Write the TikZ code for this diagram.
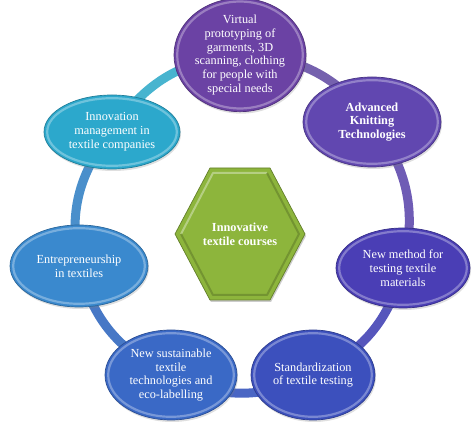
\documentclass[tikz,border=0pt]{standalone}
\usepackage{fontspec}
\setmainfont{Liberation Serif}
\usetikzlibrary{shapes.geometric,backgrounds,calc,shadows}
\definecolor{cTop}{HTML}{6B42A4}
\definecolor{cAdv}{HTML}{6147B0}
\definecolor{cInn}{HTML}{2CA8CC}
\definecolor{cEnt}{HTML}{3A89CE}
\definecolor{cNew}{HTML}{4A3EB5}
\definecolor{cSus}{HTML}{3A69C6}
\definecolor{cSta}{HTML}{3C50BD}
\definecolor{cHex}{HTML}{8DB53C}
\definecolor{lA}{HTML}{48B4CF}
\definecolor{lB}{HTML}{4A8FCB}
\definecolor{lC}{HTML}{4778C6}
\definecolor{lD}{HTML}{4A66C4}
\definecolor{lE}{HTML}{5656BC}
\definecolor{lF}{HTML}{6F5CB5}
\definecolor{lG}{HTML}{7561AE}
\tikzset{
  bub/.style={ellipse, fill=#1, draw=#1!75!black, line width=0.7pt,
    text=white, align=center, inner sep=0pt,
    font=\fontsize{12.3}{13.8}\selectfont,
    drop shadow={opacity=0.25, shadow xshift=1pt, shadow yshift=-2pt},
    path picture={
      \draw[#1!55!white, opacity=0.7, line width=2.2pt]
        let \p1=(path picture bounding box.north east),
            \p2=(path picture bounding box.center) in
        (\p2) ellipse ({\x1-\x2-3.2pt} and {\y1-\y2-3.2pt});
    }},
  link/.style={line width=9pt, draw=#1},
  hexbox/.style={fill=cHex, draw=cHex!70!black, line width=0.7pt, line join=round},
  hextext/.style={text=white, align=center, font=\fontsize{12.3}{14}\selectfont\bfseries}
}
\begin{document}
\begin{tikzpicture}[x=1pt,y=1pt]
\useasboundingbox (0,0) rectangle (474,425);
% nodes
\node[bub=cTop, minimum width=132pt, minimum height=100pt] (top) at (240,370)
  {Virtual\\prototyping of\\garments, 3D\\scanning, clothing\\for people with\\special needs};
\node[bub=cAdv, minimum width=138pt, minimum height=90pt] (adv) at (372,303)
  {\bfseries Advanced\\\bfseries Knitting\\\bfseries Technologies};
\node[bub=cInn, minimum width=136pt, minimum height=74pt] (inn) at (112,293)
  {Innovation\\management in\\textile companies};
\node[bub=cEnt, minimum width=138pt, minimum height=82pt] (ent) at (79,159)
  {Entrepreneurship\\in textiles};
\node[bub=cNew, minimum width=134pt, minimum height=80pt] (new) at (403,157)
  {New method for\\testing textile\\materials};
\node[bub=cSus, minimum width=132pt, minimum height=90pt] (sus) at (171,50)
  {New sustainable\\textile\\technologies and\\eco-labelling};
\node[bub=cSta, minimum width=124pt, minimum height=90pt] (sta) at (313,50)
  {Standardization\\of textile testing};
% hexagon
\coordinate (h1) at (210,257);
\coordinate (h2) at (270,257);
\coordinate (h3) at (305,191);
\coordinate (h4) at (270,125);
\coordinate (h5) at (210,125);
\coordinate (h6) at (175,191);
\fill[black, opacity=0.2] ($(h1)+(1,-2)$) -- ($(h2)+(1,-2)$) -- ($(h3)+(1,-2)$) -- ($(h4)+(1,-2)$) -- ($(h5)+(1,-2)$) -- ($(h6)+(1,-2)$) -- cycle;
\path[hexbox] (h1) -- (h2) -- (h3) -- (h4) -- (h5) -- (h6) -- cycle;
\draw[cHex!55!white, line width=2pt, opacity=0.8, line join=round]
  ($(h6)+(6,0)$) -- ($(h1)+(3,-5)$) -- ($(h2)+(-3,-5)$);
\draw[cHex!70!black, line width=2pt, opacity=0.6, line join=round]
  ($(h2)+(-3,-5)$) -- ($(h3)+(-6,0)$) -- ($(h4)+(-3,5)$) -- ($(h5)+(3,5)$) -- ($(h6)+(6,0)$);
\node[hextext] (hex) at (240,191) {Innovative\\textile courses};
% connectors
\begin{scope}[on background layer]
\draw[link=lG] (top.center) to[bend left=26] (adv.center);
\draw[link=lF] (adv.center) to[bend left=26] (new.center);
\draw[link=lE] (new.center) to[bend left=25] (sta.center);
\draw[link=lD] (sta.center) to[bend left=26] (sus.center);
\draw[link=lC] (sus.center) to[bend left=26] (ent.center);
\draw[link=lB] (ent.center) to[bend left=25] (inn.center);
\draw[link=lA] (inn.center) to[bend left=26] (top.center);
\end{scope}
\end{tikzpicture}
\end{document}
